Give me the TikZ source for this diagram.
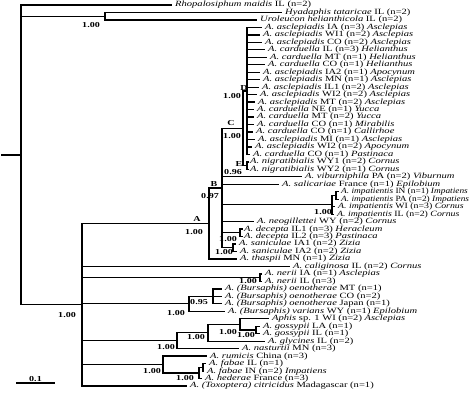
\documentclass[tikz,border=0pt]{standalone}
\usepackage{graphicx}
\usepackage{fontspec}
\setmainfont{Liberation Serif}
\newcommand\hs[1]{\scalebox{1.32}[1]{#1}}
\newcommand\hsn[1]{\scalebox{1.23}[1]{#1}}
\newcommand\hsm[1]{\scalebox{1.17}[1]{#1}}
\begin{document}
\begin{tikzpicture}[x=1pt,y=-1pt,
  br/.style={line width=1.3pt,line cap=rect,line join=miter},
  leaf/.style={anchor=west,inner xsep=4pt,inner ysep=0pt,font=\fontsize{8}{8}\selectfont},
  lab/.style={anchor=east,inner sep=0pt,font=\fontsize{7.6}{7.6}\selectfont\bfseries},
  let/.style={anchor=center,inner sep=0pt,font=\fontsize{7.6}{7.6}\selectfont\bfseries}]
\useasboundingbox (0,0) rectangle (474,394);
% leaves
\node[leaf] (l1) at (171,5.00) {\hs{\textit{Rhopalosiphum maidis} IL (n=2)}};
\node[leaf] (l2) at (281,12.47) {\hs{\textit{Hyadaphis tataricae} IL (n=2)}};
\node[leaf] (l3) at (256,19.94) {\hs{\textit{Uroleucon helianthicola} IL (n=2)}};
\node[leaf] (l4) at (261,27.41) {\hs{\textit{A. asclepiadis} IA (n=3) \textit{Asclepias}}};
\node[leaf] (l5) at (259,34.88) {\hs{\textit{A. asclepiadis} WI1 (n=2) \textit{Asclepias}}};
\node[leaf] (l6) at (261,42.35) {\hs{\textit{A. asclepiadis} CO (n=2) \textit{Asclepias}}};
\node[leaf] (l7) at (264,49.82) {\hs{\textit{A. carduella} IL (n=3) \textit{Helianthus}}};
\node[leaf] (l8) at (266,57.29) {\hs{\textit{A. carduella} MT (n=1) \textit{Helianthus}}};
\node[leaf] (l9) at (264,64.76) {\hs{\textit{A. carduella} CO (n=1) \textit{Helianthus}}};
\node[leaf] (l10) at (259,72.23) {\hs{\textit{A. asclepiadis} IA2 (n=1) \textit{Apocynum}}};
\node[leaf] (l11) at (259,79.70) {\hs{\textit{A. asclepiadis} MN (n=1) \textit{Asclepias}}};
\node[leaf] (l12) at (258,87.17) {\hs{\textit{A. asclepiadis} IL1 (n=2) \textit{Asclepias}}};
\node[leaf] (l13) at (256,94.64) {\hs{\textit{A. asclepiadis} WI2 (n=2) \textit{Asclepias}}};
\node[leaf] (l14) at (254,102.11) {\hs{\textit{A. asclepiadis} MT (n=2) \textit{Asclepias}}};
\node[leaf] (l15) at (253,109.58) {\hs{\textit{A. carduella} NE (n=1) \textit{Yucca}}};
\node[leaf] (l16) at (253,117.05) {\hs{\textit{A. carduella} MT (n=2) \textit{Yucca}}};
\node[leaf] (l17) at (253,124.52) {\hs{\textit{A. carduella} CO (n=1) \textit{Mirabilis}}};
\node[leaf] (l18) at (252,131.99) {\hs{\textit{A. carduella} CO (n=1) \textit{Callirhoe}}};
\node[leaf] (l19) at (254,139.46) {\hs{\textit{A. asclepiadis} MI (n=1) \textit{Asclepias}}};
\node[leaf] (l20) at (251,146.93) {\hs{\textit{A. asclepiadis} WI2 (n=2) \textit{Apocynum}}};
\node[leaf] (l21) at (249,154.40) {\hs{\textit{A. carduella} CO (n=1) \textit{Pastinaca}}};
\node[leaf,inner xsep=2pt] (l22) at (248,161.87) {\hs{\textit{A. nigratibialis} WY1 (n=2) \textit{Cornus}}};
\node[leaf,inner xsep=2pt] (l23) at (248,169.34) {\hs{\textit{A. nigratibialis} WY2 (n=1) \textit{Cornus}}};
\node[leaf] (l24) at (301,176.81) {\hs{\textit{A. viburniphila} PA (n=2) \textit{Viburnum}}};
\node[leaf] (l25) at (278,184.28) {\hs{\textit{A. salicariae} France (n=1) \textit{Epilobium}}};
\node[leaf,inner xsep=3pt] (l26) at (338,191.75) {\hsm{\textit{A. impatientis} IN (n=1) \textit{Impatiens}}};
\node[leaf,inner xsep=3pt] (l27) at (338,199.22) {\hsm{\textit{A. impatientis} PA (n=2) \textit{Impatiens}}};
\node[leaf] (l28) at (334,206.69) {\hsn{\textit{A. impatientis} WI (n=3) \textit{Cornus}}};
\node[leaf] (l29) at (333,214.16) {\hsn{\textit{A. impatientis} IL (n=2) \textit{Cornus}}};
\node[leaf] (l30) at (253,221.63) {\hs{\textit{A. neogillettei} WY (n=2) \textit{Cornus}}};
\node[leaf,inner xsep=2pt] (l31) at (242,229.10) {\hs{\textit{A. decepta} IL1 (n=3) \textit{Heracleum}}};
\node[leaf,inner xsep=2pt] (l32) at (242,236.57) {\hs{\textit{A. decepta} IL2 (n=3) \textit{Pastinaca}}};
\node[leaf] (l33) at (235,244.04) {\hs{\textit{A. saniculae} IA1 (n=2) \textit{Zizia}}};
\node[leaf] (l34) at (236,251.51) {\hs{\textit{A. saniculae} IA2 (n=2) \textit{Zizia}}};
\node[leaf] (l35) at (236,258.98) {\hs{\textit{A. thaspii} MN (n=1) \textit{Zizia}}};
\node[leaf] (l36) at (289,266.45) {\hs{\textit{A. caliginosa} IL (n=2) \textit{Cornus}}};
\node[leaf] (l37) at (261,273.92) {\hs{\textit{A. nerii} IA (n=1) \textit{Asclepias}}};
\node[leaf] (l38) at (261,281.39) {\hs{\textit{A. nerii} IL (n=3)}};
\node[leaf] (l39) at (221,288.86) {\hs{\textit{A. (Bursaphis) oenotherae} MT (n=1)}};
\node[leaf] (l40) at (221,296.33) {\hs{\textit{A. (Bursaphis) oenotherae} CO (n=2)}};
\node[leaf] (l41) at (221,303.80) {\hs{\textit{A. (Bursaphis) oenotherae} Japan (n=1)}};
\node[leaf] (l42) at (224,311.27) {\hs{\textit{A. (Bursaphis) varians} WY (n=1) \textit{Epilobium}}};
\node[leaf] (l43) at (268,318.74) {\hs{\textit{Aphis} sp. 1 WI (n=2) \textit{Asclepias}}};
\node[leaf] (l44) at (259,326.21) {\hs{\textit{A. gossypii} LA (n=1)}};
\node[leaf] (l45) at (259,333.68) {\hs{\textit{A. gossypii} IL (n=1)}};
\node[leaf] (l46) at (264,341.15) {\hs{\textit{A. glycines} IL (n=2)}};
\node[leaf] (l47) at (238,348.62) {\hs{\textit{A. nasturtii} MN (n=3)}};
\node[leaf] (l48) at (206,356.09) {\hs{\textit{A. rumicis} China (n=3)}};
\node[leaf] (l49) at (205,363.56) {\hs{\textit{A. fabae} IL (n=1)}};
\node[leaf] (l50) at (203,371.03) {\hs{\textit{A. fabae} IN (n=2) \textit{Impatiens}}};
\node[leaf] (l51) at (201,378.50) {\hs{\textit{A. hederae} France (n=3)}};
\node[leaf] (l52) at (186,385.97) {\hs{\textit{A. (Toxoptera) citricidus} Madagascar (n=1)}};
% internal nodes
\coordinate (r0) at (2,154.87);
\coordinate (ROOT) at (21,154.87);
\coordinate (HU) at (105,16.21);
\coordinate (AP) at (82,304.74);
\coordinate (A) at (209,223.50);
\coordinate (B) at (222,188.02);
\coordinate (C) at (243,128.26);
\coordinate (D) at (247,90.91);
\coordinate (E) at (247,165.61);
\coordinate (IMP) at (332,204.83);
\coordinate (IMPa) at (336,195.49);
\coordinate (DEC) at (240,232.84);
\coordinate (SAN) at (233,247.78);
\coordinate (NER) at (260,277.66);
\coordinate (BUR) at (189,303.80);
\coordinate (OEN) at (213,296.33);
\coordinate (NAS) at (177,340.69);
\coordinate (GLY) at (208,332.75);
\coordinate (APS) at (240,324.35);
\coordinate (GOS) at (256,329.95);
\coordinate (RUM) at (163,364.50);
\coordinate (FH) at (199,372.90);
\coordinate (FAB) at (203,367.30);
% branches
\draw[br] (r0) -- (ROOT);
\draw[br] (ROOT) |- (l1.west);
\draw[br] (ROOT) |- (HU);
\draw[br] (ROOT) |- (AP);
\draw[br] (HU) |- (l2.west);
\draw[br] (HU) |- (l3.west);
\foreach \c in {A,NER,BUR,NAS,RUM} \draw[br] (AP) |- (\c);
\draw[br] (AP) |- (l36.west);
\draw[br] (AP) |- (l52.west);
\draw[br] (A) |- (B);
\draw[br] (A) |- (l35.west);
\foreach \c in {C,IMP,DEC,SAN} \draw[br] (B) |- (\c);
\foreach \i in {24,25,30} \draw[br] (B) |- (l\i.west);
\draw[br] (C) |- (D);
\draw[br] (C) |- (E);
\foreach \i in {4,...,21} \draw[br] (D) |- (l\i.west);
\draw[br] (E) |- (l22.west);
\draw[br] (E) |- (l23.west);
\draw[br] (IMP) |- (IMPa);
\draw[br] (IMP) |- (l28.west);
\draw[br] (IMP) |- (l29.west);
\draw[br] (IMPa) |- (l26.west);
\draw[br] (IMPa) |- (l27.west);
\draw[br] (DEC) |- (l31.west);
\draw[br] (DEC) |- (l32.west);
\draw[br] (SAN) |- (l33.west);
\draw[br] (SAN) |- (l34.west);
\draw[br] (NER) |- (l37.west);
\draw[br] (NER) |- (l38.west);
\draw[br] (BUR) |- (OEN);
\draw[br] (BUR) |- (l42.west);
\foreach \i in {39,40,41} \draw[br] (OEN) |- (l\i.west);
\draw[br] (NAS) |- (GLY);
\draw[br] (NAS) |- (l47.west);
\draw[br] (GLY) |- (APS);
\draw[br] (GLY) |- (l46.west);
\draw[br] (APS) |- (l43.west);
\draw[br] (APS) |- (GOS);
\draw[br] (GOS) |- (l44.west);
\draw[br] (GOS) |- (l45.west);
\draw[br] (RUM) |- (l48.west);
\draw[br] (RUM) |- (FH);
\draw[br] (FH) |- (FAB);
\draw[br] (FH) |- (l51.west);
\draw[br] (FAB) |- (l49.west);
\draw[br] (FAB) |- (l50.west);
% support labels
\node[lab] (sHU) at (100,25) {\hs{1.00}};
\node[lab] (sA) at (203,232) {\hs{1.00}};
\node[lab] (sB) at (219,196) {\hs{0.97}};
\node[lab] (sC) at (241,136) {\hs{1.00}};
\node[lab] (sD) at (241,96) {\hs{1.00}};
\node[lab] (sE) at (242,172) {\hs{0.96}};
\node[lab] (sIMP) at (332,212) {\hs{1.00}};
\node[lab] (sDEC) at (237,239) {\hs{1.00}};
\node[lab] (sSAN) at (233,252) {\hs{1.00}};
\node[lab] (sNER) at (257,281.5) {\hs{1.00}};
\node[lab] (sOEN) at (208,302) {\hs{0.95}};
\node[lab] (sBUR) at (185,313) {\hs{1.00}};
\node[lab] (sAP) at (76,315) {\hs{1.00}};
\node[lab] (sNAS) at (175,347) {\hs{1.00}};
\node[lab] (sGLY) at (205,337.5) {\hs{1.00}};
\node[lab] (sAPS) at (237,332) {\hs{1.00}};
\node[lab] (sGOS) at (255,335) {\hs{1.00}};
\node[lab] (sRUM) at (161,371) {\hs{1.00}};
\node[lab] (sFH) at (194,378) {\hs{1.00}};
% clade letters
\node[let] (tA) at (197,219) {\hs{A}};
\node[let] (tB) at (214,184) {\hs{B}};
\node[let] (tC) at (231,123) {\hs{C}};
\node[let] (tD) at (244,88) {\hs{D}};
\node[let] (tE) at (239,164) {\hs{E}};
% scale bar
\coordinate (s1) at (17,383);
\coordinate (s2) at (54,383);
\draw[br] (s1) -- (s2) node[midway,above,inner sep=0.8pt,font=\fontsize{7.6}{7.6}\selectfont\bfseries] (sc) {\hs{0.1}};
\end{tikzpicture}
\end{document}
